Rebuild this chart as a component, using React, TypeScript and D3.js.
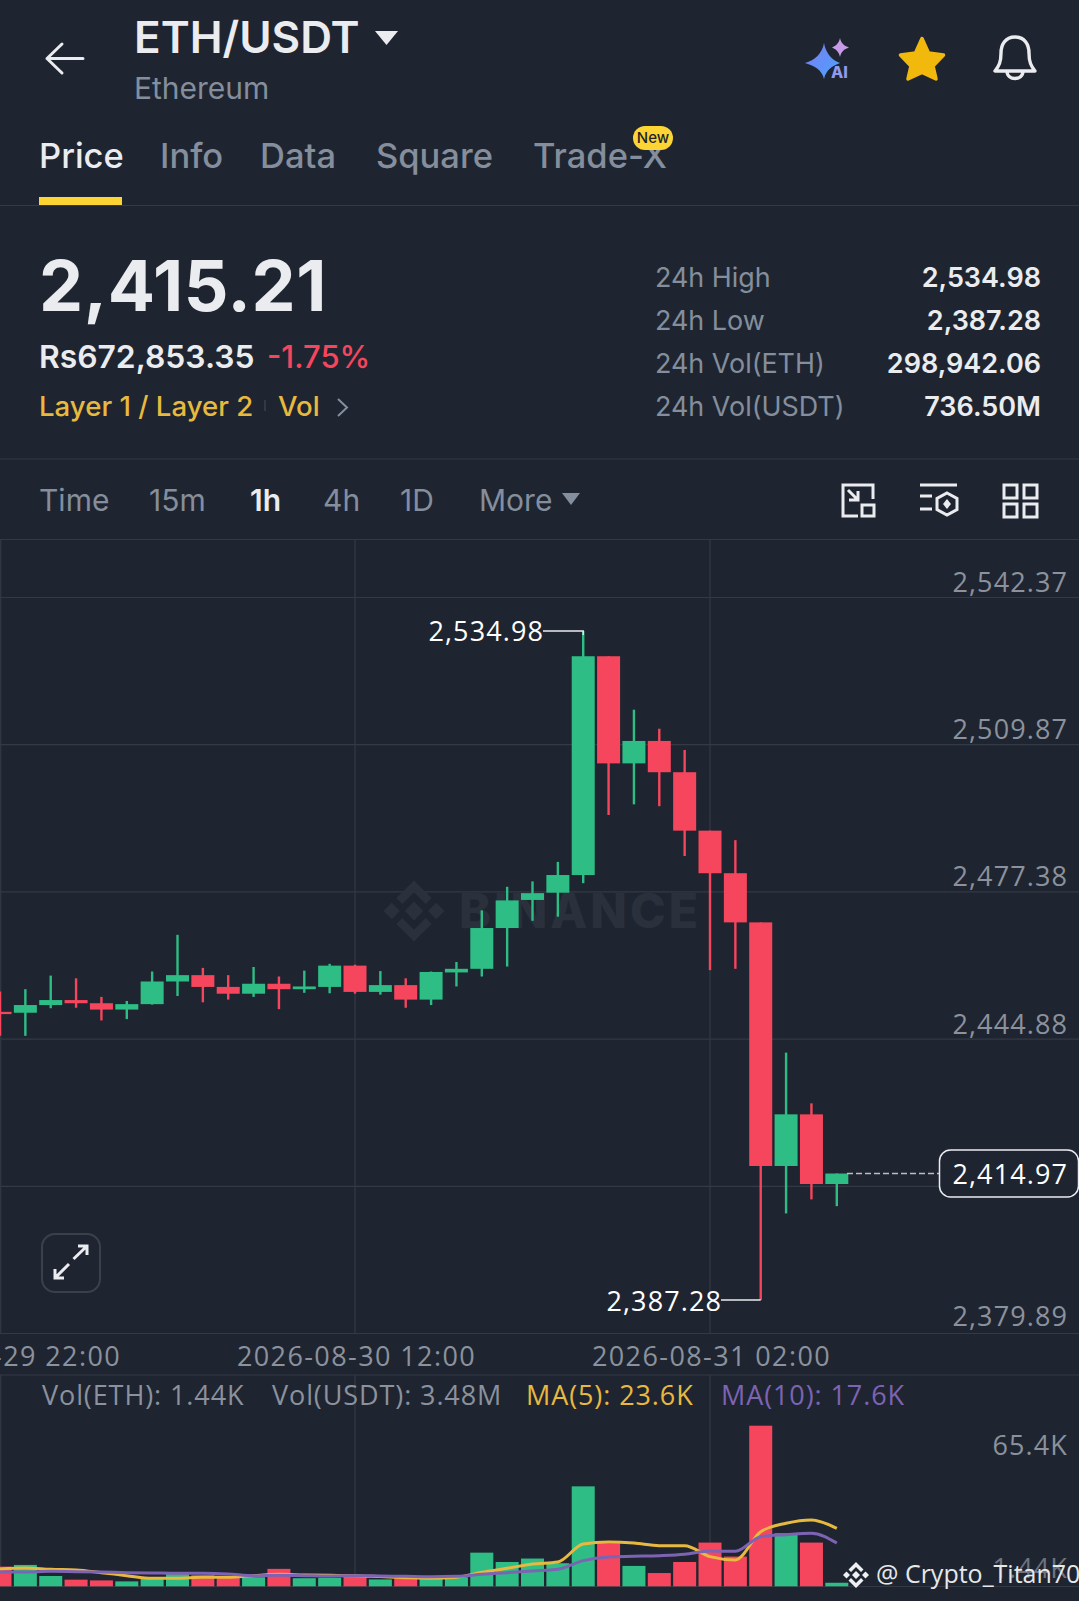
import * as d3 from 'd3';

const BG = '#1f2530';
const GRID = '#333a45';
const GREEN = '#2ebd85';
const RED = '#f6465d';
const GRAY = '#848e9c';
const AXIS = '#8b929d';
const WHITE = '#eaecef';
const GOLD = '#e8b93f';
const PURPLE = '#7d63b3';
const UI = 'Inter, sans-serif';
const CHART = '"Open Sans", sans-serif';

// candles, one per hour
const opens = [2450.9, 2450.7, 2452.4, 2453.5, 2452.8, 2451.4, 2452.6, 2457.6, 2459.0, 2456.4, 2454.9, 2457.1, 2455.9, 2456.4, 2461.1, 2455.3, 2456.8, 2453.6, 2459.6, 2460.4, 2469.4, 2475.6, 2477.2, 2481.1, 2529.4, 2505.75, 2510.7, 2503.8, 2490.9, 2481.5, 2470.65, 2416.87, 2428.27, 2412.89];
const closes = [2450.4, 2452.4, 2453.5, 2452.8, 2451.4, 2452.6, 2457.6, 2459.0, 2456.4, 2454.9, 2457.1, 2455.9, 2456.5, 2461.1, 2455.3, 2456.8, 2453.6, 2459.7, 2460.4, 2469.4, 2475.5, 2477.1, 2481.1, 2529.4, 2505.75, 2510.7, 2503.8, 2490.9, 2481.5, 2470.65, 2416.87, 2428.27, 2412.89, 2415.21];
const highs = [2455.4, 2455.9, 2458.9, 2458.3, 2454.2, 2453.3, 2459.8, 2467.9, 2460.6, 2459.0, 2460.8, 2458.7, 2460.0, 2461.5, 2461.3, 2459.9, 2458.3, 2459.8, 2461.9, 2473.3, 2478.5, 2479.7, 2484.0, 2534.98, 2529.4, 2517.6, 2513.4, 2508.7, 2490.9, 2488.8, 2470.65, 2441.9, 2430.7, 2415.21];
const lows = [2445.6, 2445.6, 2451.7, 2451.8, 2449.0, 2449.3, 2452.5, 2454.4, 2453.0, 2453.6, 2454.2, 2451.5, 2455.1, 2455.0, 2454.9, 2454.7, 2451.8, 2452.4, 2456.5, 2458.7, 2460.9, 2471.0, 2471.9, 2479.3, 2494.35, 2496.7, 2496.3, 2485.3, 2460.1, 2460.4, 2387.28, 2406.4, 2409.5, 2408.0];

// volume in thousands
const volumes = [8.0, 8.7, 4.2, 2.7, 2.4, 2.0, 3.7, 5.0, 4.5, 3.9, 3.7, 7.1, 3.3, 3.5, 4.2, 2.8, 3.7, 3.0, 3.7, 13.7, 9.9, 11.3, 9.4, 40.7, 17.5, 8.3, 5.4, 9.9, 17.8, 12.1, 65.4, 21.6, 17.8, 1.44];
const ma5 = [7.06, 7.46, 6.92, 6.65, 5.56, 4.34, 3.26, 3.26, 3.66, 3.66, 4.34, 4.89, 4.61, 4.48, 4.34, 3.94, 3.53, 3.26, 3.66, 5.7, 7.33, 9.09, 9.91, 17.23, 18.05, 17.64, 16.56, 16.56, 12.08, 10.72, 22.25, 25.65, 27.0, 23.6];
const ma10 = [5.84, 5.84, 6.11, 5.97, 5.84, 5.56, 5.43, 5.29, 5.29, 5.02, 4.34, 4.48, 4.34, 4.21, 4.34, 4.21, 4.07, 3.94, 4.07, 4.89, 5.56, 6.24, 6.92, 10.45, 11.94, 12.21, 12.48, 13.03, 14.38, 14.25, 20.22, 21.03, 21.58, 17.6];

const priceTicks = [2542.37, 2509.87, 2477.38, 2444.88, 2379.89];
const gridPrices = [2542.37, 2509.87, 2477.38, 2444.88, 2412.39, 2379.89];
const timeLabels = ['2026-08-29 22:00', '2026-08-30 12:00', '2026-08-31 02:00'];
const timeIndex = [0, 14, 28];

const tabs = ['Price', 'Info', 'Data', 'Square', 'Trade-X'];
const tabX = [39, 160, 260, 376, 533];
const intervals = ['Time', '15m', '1h', '4h', '1D', 'More'];
const intervalX = [39, 149, 250, 323, 400, 479];
const statLabels = ['24h High', '24h Low', '24h Vol(ETH)', '24h Vol(USDT)'];
const statValues = ['2,534.98', '2,387.28', '298,942.06', '736.50M'];
const statY = [286.5, 329.5, 372.6, 415.6];

const x = d3.scaleLinear().domain([0, 33]).range([0, 836.8]);
const y = d3.scaleLinear().domain([2379.89, 2542.37]).range([1333.5, 597.5]);
const yVol = d3.scaleLinear().domain([0, 65.4]).range([1586.3, 1425.7]);
const fmt = d3.format(',.2f');
const bodyW = 23;

const volLine = d3
  .line<number>()
  .x((_, i) => x(i))
  .y((d) => yVol(d))
  .curve(d3.curveMonotoneX);

const BinanceLogo = ({ cx, cy, s, fill }: { cx: number; cy: number; s: number; fill: string }) => (
  <g transform={`translate(${cx},${cy}) scale(${s})`} fill={fill}>
    <path d="M0 -4 L4 0 L0 4 L-4 0 Z" />
    <path d="M-10 0 L-6.5 -3.5 L-3 0 L-6.5 3.5 Z" transform="translate(-3,0)" />
    <path d="M-10 0 L-6.5 -3.5 L-3 0 L-6.5 3.5 Z" transform="translate(16,0)" />
    <path d="M0 -13 L7.5 -5.5 L5 -3 L0 -8 L-5 -3 L-7.5 -5.5 Z" />
    <path d="M0 13 L7.5 5.5 L5 3 L0 8 L-5 3 L-7.5 5.5 Z" />
  </g>
);

export default function App() {
  const label = (s: string, xp: number, yp: number, fill = AXIS, anchor = 'end', spacing = 1.1) => (
    <text x={xp} y={yp} fill={fill} fontFamily={CHART} fontSize={27} letterSpacing={spacing} textAnchor={anchor}>
      {s}
    </text>
  );

  return (
    <svg width={1079} height={1601} viewBox="0 0 1079 1601" style={{ position: 'absolute', left: 0, top: 0, background: BG }}>
      {/* header */}
      <path d="M83 58.5 H47 M62 44 L47 58.5 L62 73" fill="none" stroke={WHITE} strokeWidth={3} strokeLinecap="round" strokeLinejoin="round" />
      <text x={134} y={52.5} fill={WHITE} fontFamily={UI} fontSize={44} fontWeight={600}>ETH/USDT</text>
      <path d="M375 31 H398 L386.5 45 Z" fill={WHITE} />
      <text x={134} y={99} fill={GRAY} fontFamily={UI} fontSize={30}>Ethereum</text>

      <defs>
        <linearGradient id="spark" x1="0" y1="0" x2="1" y2="1">
          <stop offset="0" stopColor="#7d7cf0" />
          <stop offset="1" stopColor="#4aa3ff" />
        </linearGradient>
      </defs>
      <path d="M824 43 C826 54 832 60 840 63 C832 66 826 70 824 79 C822 70 815 66 805 63 C815 60 822 54 824 43 Z" fill="url(#spark)" />
      <path d="M840 38 C841 43 844 46 849 47.5 C844 49 841 52 840 57 C839 52 836 49 832 47.5 C836 46 839 43 840 38 Z" fill="#c79be8" />
      <text x={831} y={78} fill="#8f9bf0" fontFamily={UI} fontSize={16} fontWeight={800}>AI</text>
      <path d="M922 38.5 L928.5 53 L943.5 55 L933 66 L936 79 L922 72.5 L908 79 L911 66 L900.5 55 L915.5 53 Z" fill="#f2b90d" stroke="#f2b90d" strokeWidth={3.5} strokeLinejoin="round" />
      <path d="M1015 37 C1005 37 1001 45 1001 53 C1001 62 999 66 995 71 H1035 C1031 66 1029 62 1029 53 C1029 45 1025 37 1015 37 Z M1007 71 C1007 81 1023 81 1023 71" fill="none" stroke={WHITE} strokeWidth={3.4} strokeLinejoin="round" />

      {/* tabs */}
      {tabs.map((t, i) => (
        <text key={t} x={tabX[i]} y={167.5} fill={i === 0 ? WHITE : GRAY} fontFamily={UI} fontSize={34.5} fontWeight={500}>{t}</text>
      ))}
      <rect x={633} y={126} width={40} height={24} rx={12} fill="#fcd535" />
      <text x={653} y={143} fill="#1e2329" fontFamily={UI} fontSize={15} fontWeight={500} textAnchor="middle">New</text>
      <rect x={39} y={197} width={83} height={8} fill="#fcd535" />
      <line x1={0} x2={1079} y1={205.5} y2={205.5} stroke={GRID} />

      {/* price block */}
      <text x={39} y={311} fill={WHITE} fontFamily={UI} fontSize={70} fontWeight={700} letterSpacing={0.6}>2,415.21</text>
      <text x={39} y={368} fill={WHITE} fontFamily={UI} fontSize={31.8} fontWeight={600}>Rs672,853.35</text>
      <text x={267} y={368} fill={RED} fontFamily={UI} fontSize={31} fontWeight={500}>-1.75%</text>
      <text x={39} y={415.5} fill={GOLD} fontFamily={UI} fontSize={27.6} fontWeight={500}>Layer 1 / Layer 2</text>
      <line x1={265} x2={265} y1={400} y2={411} stroke={GRID} strokeWidth={2} />
      <text x={278} y={415.5} fill={GOLD} fontFamily={UI} fontSize={27.6} fontWeight={500}>Vol</text>
      <path d="M338 399 L347 407.5 L338 416" fill="none" stroke={GRAY} strokeWidth={2} />
      {statLabels.map((s, i) => (
        <g key={s}>
          <text x={655} y={statY[i]} fill={GRAY} fontFamily={UI} fontSize={26.9}>{s}</text>
          <text x={1041} y={statY[i]} fill={WHITE} fontFamily={UI} fontSize={27} fontWeight={600} textAnchor="end">{statValues[i]}</text>
        </g>
      ))}
      <line x1={0} x2={1079} y1={459} y2={459} stroke={GRID} />

      {/* interval bar */}
      {intervals.map((t, i) => (
        <text key={t} x={intervalX[i]} y={511} fill={t === '1h' ? WHITE : GRAY} fontFamily={UI} fontSize={30} fontWeight={t === '1h' ? 600 : 400}>{t}</text>
      ))}
      <path d="M562 493 H580 L571 505 Z" fill={GRAY} />
      <g fill="none" stroke={WHITE} strokeWidth={3}>
        <path d="M858 516 H843 V485 H873 V499" />
        <rect x={862} y={505} width={12} height={11} />
        <path d="M848 490 L858 500 M858 491 V500 H849" />
        <path d="M920 485 H957 M920 496 H932 M920 509 H932" />
        <path d="M947 493 L957 498.5 V509.5 L947 515 L937 509.5 V498.5 Z" />
        <rect x={1004} y={485} width={13} height={13} />
        <rect x={1024} y={485} width={13} height={13} />
        <rect x={1004} y={504} width={13} height={13} />
        <rect x={1024} y={504} width={13} height={13} />
      </g>
      <path d="M947 499 L951 504 L947 509 L943 504 Z" fill={WHITE} />
      <line x1={0} x2={1079} y1={539.5} y2={539.5} stroke={GRID} />

      {/* grid */}
      {gridPrices.map((p) => (
        <line key={p} x1={0} x2={1079} y1={y(p)} y2={y(p)} stroke={GRID} strokeWidth={1.2} />
      ))}
      {[0.7, x(14), x(28)].map((v) => (
        <g key={v}>
          <line x1={v} x2={v} y1={540} y2={1333} stroke={GRID} strokeWidth={1.2} />
          <line x1={v} x2={v} y1={1375} y2={1586} stroke={GRID} strokeWidth={1.2} />
        </g>
      ))}
      <line x1={0} x2={1079} y1={1375} y2={1375} stroke={GRID} />
      <line x1={0} x2={1079} y1={1586.5} y2={1586.5} stroke={GRID} />

      {/* watermark */}
      <BinanceLogo cx={414} cy={911} s={2.35} fill="#2b313c" />
      <text x={459} y={928} fill="#2b313c" fontFamily={UI} fontSize={48} fontWeight={800} letterSpacing={3}>BINANCE</text>

      {/* candles */}
      {opens.map((o, i) => {
        const c = closes[i];
        const color = c >= o ? GREEN : RED;
        const top = y(Math.max(o, c));
        return (
          <g key={i}>
            <line x1={x(i)} x2={x(i)} y1={y(highs[i])} y2={y(lows[i])} stroke={color} strokeWidth={2.4} />
            <rect x={x(i) - bodyW / 2} y={top} width={bodyW} height={Math.max(1.5, y(Math.min(o, c)) - top)} fill={color} />
          </g>
        );
      })}

      {/* high / low markers */}
      <path d={`M543 ${y(2534.98)} H${x(23)} V${y(2534.98) + 4}`} fill="none" stroke={WHITE} strokeWidth={1.4} />
      {label(fmt(2534.98), 544, 641, '#ffffff')}
      <path d={`M721 ${y(2387.28)} H${x(30)}`} fill="none" stroke={WHITE} strokeWidth={1.4} />
      {label(fmt(2387.28), 722, 1310.5, '#ffffff')}

      {/* axis labels */}
      {priceTicks.map((p) => (
        <g key={p}>{label(fmt(p), 1068, Math.min(y(p) - 5.5, 1326))}</g>
      ))}
      {timeLabels.map((t, i) => (
        <g key={t}>{label(t, x(timeIndex[i]) + 1.5, 1366, AXIS, 'middle', 1.4)}</g>
      ))}

      {/* last price */}
      <line x1={847} x2={939} y1={y(2415.21)} y2={y(2415.21)} stroke="#b9bdc4" strokeWidth={1.6} strokeDasharray="6 3" />
      <rect x={939.5} y={1150} width={139} height={47} rx={11} fill={BG} stroke={WHITE} strokeWidth={1.5} />
      {label(fmt(2414.97), 1068, 1184, '#ffffff')}

      {/* expand button */}
      <rect x={42} y={1234} width={58} height={58} rx={13} fill="none" stroke="#3a414c" strokeWidth={2} />
      <path d="M73.5 1259 L87 1246 M78 1246 H87 V1255 M69 1264 L55 1278 M55 1269 V1278 H64" fill="none" stroke={WHITE} strokeWidth={3} />

      {/* volume pane */}
      {label('Vol(ETH): 1.44K', 42, 1405, AXIS, 'start', 0.9)}
      {label('Vol(USDT): 3.48M', 272, 1405, AXIS, 'start', 0.9)}
      {label('MA(5): 23.6K', 526, 1405, GOLD, 'start', 0.9)}
      {label('MA(10): 17.6K', 721, 1405, PURPLE, 'start', 0.9)}
      {label('65.4K', 1068, 1455)}
      {label('1.44K', 1068, 1578, '#6d747f')}
      {volumes.map((v, i) => (
        <rect key={i} x={x(i) - bodyW / 2} y={yVol(v)} width={bodyW} height={yVol(0) - yVol(v)} fill={closes[i] >= opens[i] ? GREEN : RED} />
      ))}
      <path d={volLine(ma5) ?? ''} fill="none" stroke={GOLD} strokeWidth={3} />
      <path d={volLine(ma10) ?? ''} fill="none" stroke={PURPLE} strokeWidth={3} />

      {/* uploader tag */}
      <BinanceLogo cx={856} cy={1575} s={1} fill="#eef0f2" />
      <text x={876} y={1583} fill="#e6e8ea" fontFamily={CHART} fontSize={25}>@ Crypto_Titan70</text>
    </svg>
  );
}
